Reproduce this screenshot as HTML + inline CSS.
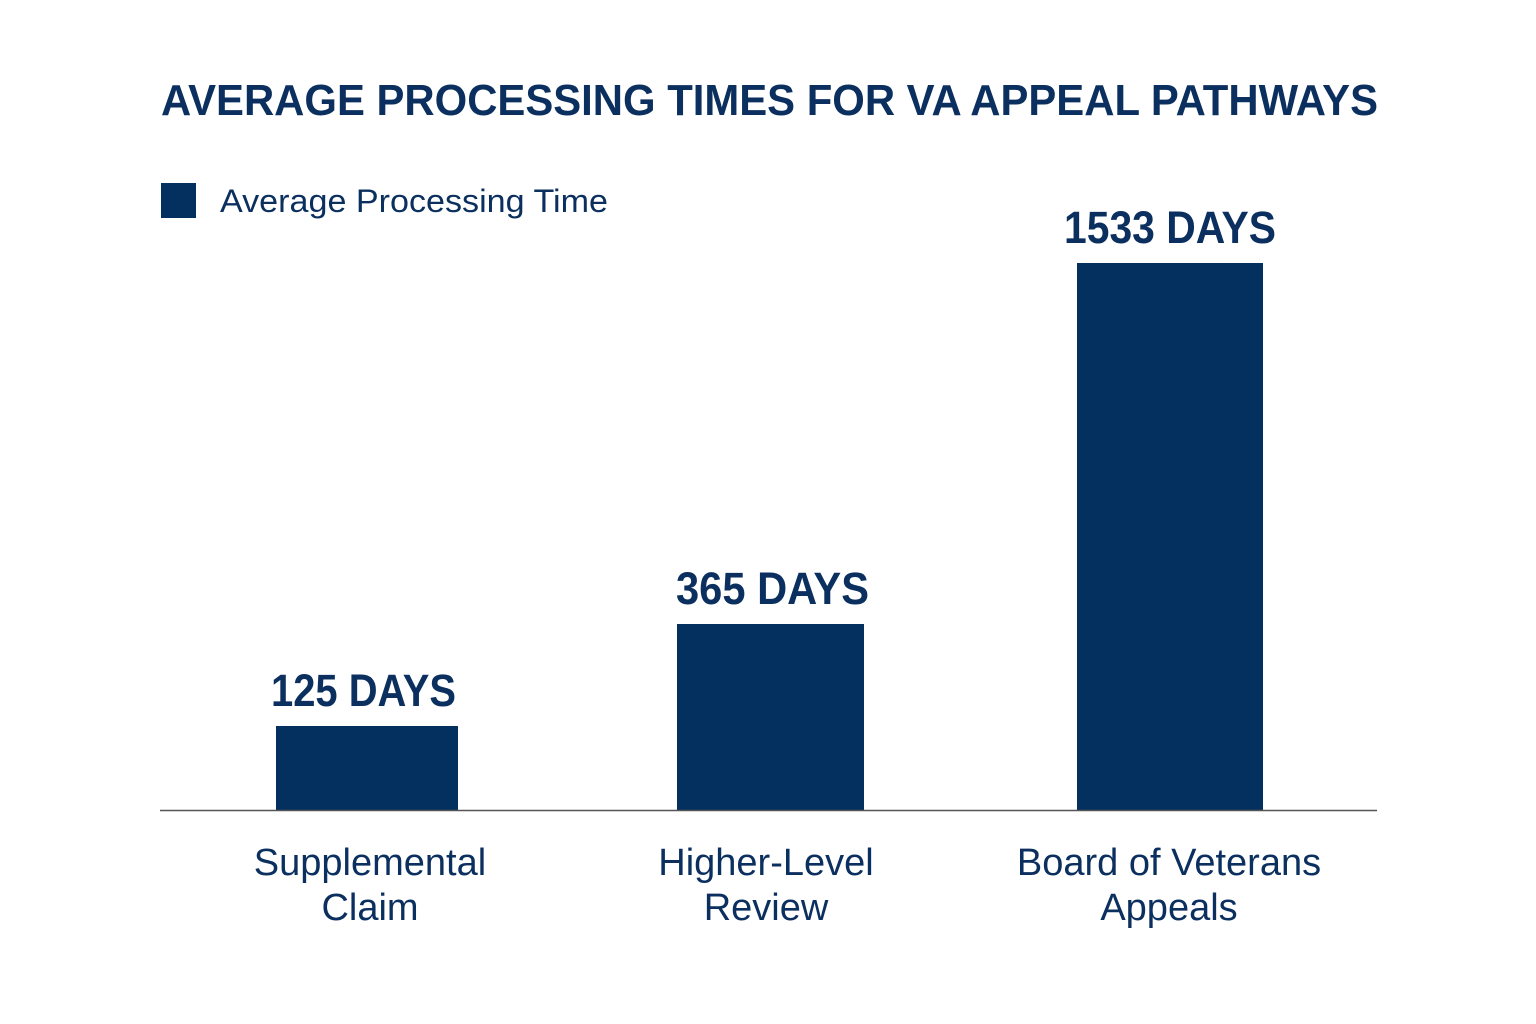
<!DOCTYPE html>
<html><head><meta charset="utf-8"><style>
html,body{margin:0;padding:0;background:#fff;}
svg{display:block;}
text{font-family:"Liberation Sans",sans-serif;fill:#0b2f5e;}
</style></head><body>
<svg width="1536" height="1024" viewBox="0 0 1536 1024" xmlns="http://www.w3.org/2000/svg">
<rect width="1536" height="1024" fill="#fff"/>
<text x="161" y="115" font-size="44" font-weight="bold" textLength="1217" lengthAdjust="spacingAndGlyphs">AVERAGE PROCESSING TIMES FOR VA APPEAL PATHWAYS</text>
<rect x="161" y="183" width="35" height="35" fill="#03305f"/>
<text x="220" y="212" font-size="32" textLength="388" lengthAdjust="spacingAndGlyphs">Average Processing Time</text>
<rect x="276" y="726" width="182" height="84" fill="#03305f"/>
<rect x="677" y="624" width="187" height="186" fill="#03305f"/>
<rect x="1077" y="263" width="186" height="547" fill="#03305f"/>
<line x1="160" y1="810.5" x2="1377" y2="810.5" stroke="#555" stroke-width="1.5"/>
<text x="271" y="706" font-size="45" font-weight="bold" textLength="185" lengthAdjust="spacingAndGlyphs">125 DAYS</text>
<text x="676" y="604" font-size="45" font-weight="bold" textLength="193" lengthAdjust="spacingAndGlyphs">365 DAYS</text>
<text x="1064" y="243" font-size="45" font-weight="bold" textLength="212" lengthAdjust="spacingAndGlyphs">1533 DAYS</text>
<g font-size="38" text-anchor="middle">
<text x="370" y="875">Supplemental</text>
<text x="370" y="920">Claim</text>
<text x="766" y="875">Higher-Level</text>
<text x="766" y="920">Review</text>
<text x="1169" y="875">Board of Veterans</text>
<text x="1169" y="920">Appeals</text>
</g>
</svg>
</body></html>
